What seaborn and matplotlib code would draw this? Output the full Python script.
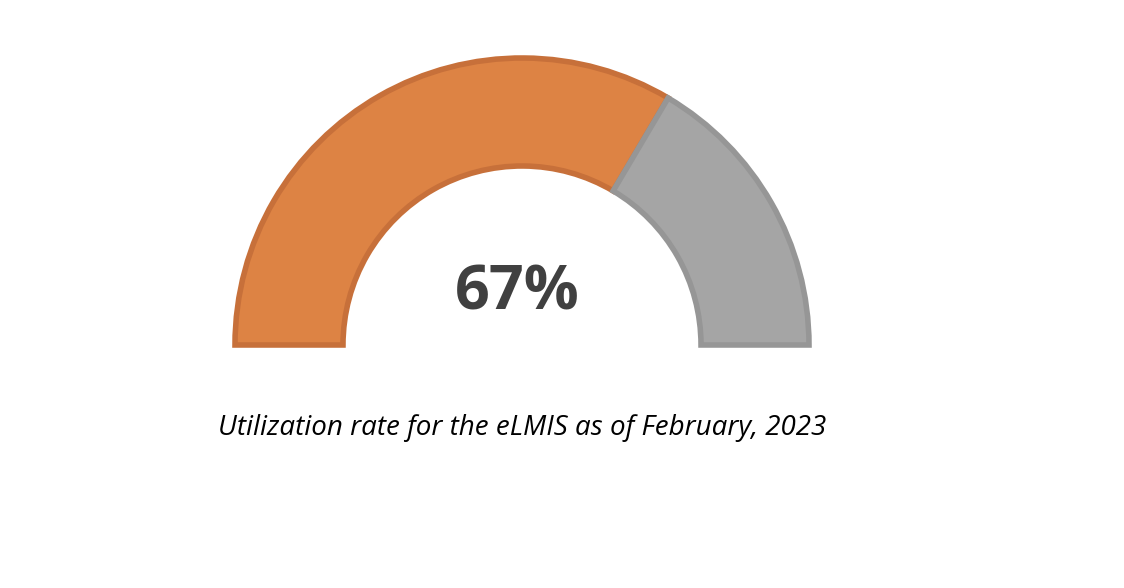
import matplotlib
matplotlib.use("Agg")
import matplotlib.pyplot as plt
from matplotlib.patches import Wedge
import seaborn as sns

# gauge data
labels = ["Utilized", "Not utilized"]
shares = [67, 33]
colors = ["#DD8344", "#A5A5A5"]
edges = ["#C7703A", "#969696"]
caption = "Utilization rate for the eLMIS as of February, 2023"

sns.set_style("white")

fig = plt.figure(figsize=(11.24, 5.88), dpi=100)
ax = fig.add_axes([0, 0, 1, 1])
ax.set_xlim(0, 1124)
ax.set_ylim(0, 588)
ax.set_aspect("equal")
ax.axis("off")

cx, cy = 522, 243
r_out, width = 287, 108

# draw segments from left (180 deg) clockwise
start = 180.0
for share, col, ec in zip(shares, colors, edges):
    sweep = share / sum(shares) * 180
    w = Wedge((cx, cy), r_out, start - sweep, start, width=width,
              facecolor=col, edgecolor=ec, linewidth=4)
    ax.add_patch(w)
    start -= sweep

ax.text(517, 294, f"{shares[0]}%", ha="center", va="center",
        fontsize=44, fontweight="bold", color="#404040", family="Open Sans")
ax.text(522, 160, caption, ha="center", va="center", fontsize=20,
        style="italic", color="black", family="Open Sans")

fig.savefig("out.png", dpi=100)
